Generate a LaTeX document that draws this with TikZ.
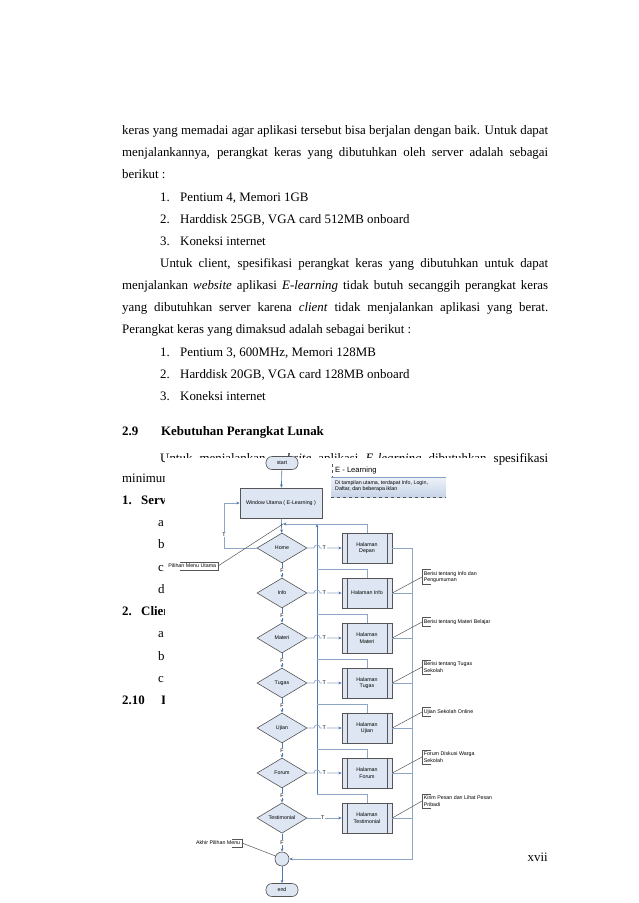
\documentclass[tikz,border=0pt]{standalone}
\usepackage{fontspec}
\setmainfont{Liberation Serif}
\newfontfamily\arialf{Liberation Sans}
\usetikzlibrary{shapes.geometric,arrows.meta}
\definecolor{boxblue}{HTML}{DDE6F2}
\definecolor{flowc}{HTML}{4F78B0}
\definecolor{retc}{HTML}{8EA6C6}
\definecolor{edgec}{HTML}{555555}
\definecolor{eltop}{HTML}{EEF2F9}
\definecolor{elbot}{HTML}{C7D4E7}
\newcommand{\bodyfont}{\fontsize{12.9}{15}\selectfont}
\newcommand{\fcfont}{\arialf\fontsize{5.3}{6.3}\selectfont}
\begin{document}
\begin{tikzpicture}[x=1pt,y=-1pt,
  body/.style={anchor=base west,inner sep=0,font=\bodyfont},
  fc/.style={draw=edgec,fill=boxblue,font=\fcfont,inner sep=0,line width=0.6pt,align=center},
  term/.style={fc,rounded corners=6pt,minimum width=32pt,minimum height=13pt},
  proc/.style={fc,minimum width=82pt,minimum height=30pt},
  dec/.style={fc,diamond,minimum width=50pt,minimum height=30pt},
  pre/.style={fc,minimum width=50pt,minimum height=30pt,
    path picture={\draw[edgec,line width=0.6pt]
      ([xshift=5pt]path picture bounding box.north west) -- ([xshift=5pt]path picture bounding box.south west)
      ([xshift=-5pt]path picture bounding box.north east) -- ([xshift=-5pt]path picture bounding box.south east);}},
  flow/.style={draw=flowc,line width=0.6pt,-{Stealth[length=3.4pt,width=2.8pt]}},
  conn/.style={draw=retc,line width=0.65pt},
  arr/.style={conn,-{Stealth[length=3.4pt,width=2.8pt,color=flowc]}},
  lab/.style={font=\fcfont,fill=white,inner sep=0.6pt},
  note/.style={font=\fcfont,align=left,inner sep=1.6pt},
  brk/.style={draw=edgec,line width=0.5pt},
  callout/.style={draw=edgec,line width=0.5pt}
  ]
\path[use as bounding box,fill=white] (0,0) rectangle (638,903);

% ---------- body text ----------
\node[body] (t1) at (122,134) {\makebox[426pt][s]{keras yang memadai agar aplikasi tersebut bisa berjalan dengan baik. Untuk dapat}};
\node[body] (t2) at (122,156) {\makebox[426pt][s]{menjalankannya, perangkat keras yang dibutuhkan oleh server adalah sebagai}};
\node[body] (t3) at (122,178) {berikut :};
\node[body] (n1) at (160,201) {1.};
\node[body] (l1) at (180,201) {Pentium 4, Memori 1GB};
\node[body] (n2) at (160,223) {2.};
\node[body] (l2) at (180,223) {Harddisk 25GB, VGA card 512MB onboard};
\node[body] (n3) at (160,245) {3.};
\node[body] (l3) at (180,245) {Koneksi internet};
\node[body] (t4) at (160,267) {\makebox[388pt][s]{Untuk client, spesifikasi perangkat keras yang dibutuhkan untuk dapat}};
\node[body] (t5) at (122,289) {\makebox[426pt][s]{menjalankan \textit{website} aplikasi \textit{E-learning} tidak butuh secanggih perangkat keras}};
\node[body] (t6) at (122,311) {\makebox[426pt][s]{yang dibutuhkan server karena \textit{client} tidak menjalankan aplikasi yang berat.}};
\node[body] (t7) at (122,333) {Perangkat keras yang dimaksud adalah sebagai berikut :};
\node[body] (m1) at (160,356) {1.};
\node[body] (k1) at (180,356) {Pentium 3, 600MHz, Memori 128MB};
\node[body] (m2) at (160,378) {2.};
\node[body] (k2) at (180,378) {Harddisk 20GB, VGA card 128MB onboard};
\node[body] (m3) at (160,400) {3.};
\node[body] (k3) at (180,400) {Koneksi internet};
\node[body] (h29) at (122,435) {\textbf{2.9}};
\node[body] (h29t) at (161,435) {\textbf{Kebutuhan Perangkat Lunak}};
\node[body] (t8) at (160,462) {\makebox[388pt][s]{Untuk menjalankan \textit{website} aplikasi \textit{E-learning} dibutuhkan spesifikasi}};
\node[body] (t9) at (122,482) {minimum};
\node[body] (s1) at (122,504) {\textbf{1.}};
\node[body] (s1t) at (141,504) {\textbf{Server}};
\node[body] (sa) at (158,526) {a};
\node[body] (sb) at (158,548) {b};
\node[body] (sc) at (158,571) {c};
\node[body] (sd) at (158,593) {d};
\node[body] (s2) at (122,615) {\textbf{2.}};
\node[body] (s2t) at (141,615) {\textbf{Client}};
\node[body] (ca) at (158,637) {a};
\node[body] (cb) at (158,660) {b};
\node[body] (cc) at (158,682) {c};
\node[body] (h210) at (122,704) {\textbf{2.10}};
\node[body] (h210t) at (161,704) {\textbf{Implementasi}};
\node[body,anchor=base east] (pg) at (548,861) {xvii};

% ---------- pasted flowchart background ----------
\fill[white] (165,457.5) rectangle (493,903);

% ---------- flowchart nodes ----------
\node[term] (start) at (282,463) {start};
\node[proc] (win) at (281,503) {Window Utama ( E-Learning )};
\node[dec] (home) at (282,548) {Home};
\node[dec] (info) at (282,593) {Info};
\node[dec] (materi) at (282,638) {Materi};
\node[dec] (tugas) at (282,683) {Tugas};
\node[dec] (ujian) at (282,728) {Ujian};
\node[dec] (forum) at (282,773) {Forum};
\node[dec] (testi) at (282,818) {Testimonial};
\node[pre] (hdepan) at (367,548) {Halaman\\Depan};
\node[pre] (hinfo) at (367,593) {Halaman Info};
\node[pre] (hmateri) at (367,638) {Halaman\\Materi};
\node[pre] (htugas) at (367,683) {Halaman\\Tugas};
\node[pre] (hujian) at (367,728) {Halaman\\Ujian};
\node[pre] (hforum) at (367,773) {Halaman\\Forum};
\node[pre] (htesti) at (367,818) {Halaman\\Testimonial};
\node[fc,circle,minimum size=14pt] (circ) at (282,859) {};
\node[term] (end) at (282,890) {end};

\coordinate (jt) at (283,524);
\coordinate (coltop) at (317,524);
\coordinate (colbot) at (317,794);

% ---------- main flow ----------
\draw[flow] (start) -- (win);
\draw[flow] (win) -- (home);
\draw[flow] (home) -- node[lab]{F} (info);
\draw[flow] (info) -- node[lab]{F} (materi);
\draw[flow] (materi) -- node[lab]{F} (tugas);
\draw[flow] (tugas) -- node[lab]{F} (ujian);
\draw[flow] (ujian) -- node[lab]{F} (forum);
\draw[flow] (forum) -- node[lab]{F} (testi);
\draw[flow] (testi) -- node[lab]{F} (circ);
\draw[flow] (circ) -- (end);

% left loop
\draw[arr] (home.west) -- (224,548) -- node[lab,pos=0.3]{T} (224,503) -- (win.west);

% collector and return lines
\draw[flow] (colbot) -- (coltop);
\draw[arr] (hdepan.north) -- (367,524) -- (jt);
\draw[conn] (hinfo.north) -- (367,569) -- (317,569);
\draw[conn] (hmateri.north) -- (367,614) -- (317,614);
\draw[conn] (htugas.north) -- (367,659) -- (317,659);
\draw[conn] (hujian.north) -- (367,704) -- (317,704);
\draw[conn] (hforum.north) -- (367,749) -- (317,749);
\draw[conn] (htesti.north) -- (367,794) -- (colbot);

% T branches with line hops
\foreach \d/\h/\y in {home/hdepan/548,info/hinfo/593,materi/hmateri/638,tugas/htugas/683,ujian/hujian/728,forum/hforum/773}{
  \draw[arr] (\d.east) -- (314,\y) .. controls (314,\y-4) and (320,\y-4) .. (320,\y) -- node[lab,pos=0.2]{T} (\h.west);
}
\draw[arr] (testi.east) -- node[lab,pos=0.45]{T} (htesti.west);

% right collector to end circle
\draw[arr] (hdepan.east) -- (412,548) -- (412,859) -- (circ.east);
\draw[conn] (hinfo.east) -- (412,593);
\draw[conn] (hmateri.east) -- (412,638);
\draw[conn] (htugas.east) -- (412,683);
\draw[conn] (hujian.east) -- (412,728);
\draw[conn] (hforum.east) -- (412,773);
\draw[conn] (htesti.east) -- (412,818);

% ---------- annotations ----------
\node[note,anchor=west] (ninfo) at (422,577) {Berisi tentang Info dan\\Pengumuman};
\node[note,anchor=west] (nmateri) at (422,622) {Berisi tentang Materi Belajar};
\node[note,anchor=west] (ntugas) at (422,667) {Berisi tentang Tugas\\Sekolah};
\node[note,anchor=west] (nujian) at (422,712) {Ujian Sekolah Online};
\node[note,anchor=west] (nforum) at (422,757) {Forum Diskusi Warga\\Sekolah};
\node[note,anchor=west] (ntesti) at (422,801) {Kirim Pesan dan Lihat Pesan\\Pribadi};
\foreach \n/\h in {ninfo/hinfo,nmateri/hmateri,ntugas/htugas,nujian/hujian,nforum/hforum,ntesti/htesti}{
  \draw[brk] ([xshift=9pt]\n.north west) -- (\n.north west) -- (\n.south west) -- ([xshift=9pt]\n.south west);
  \draw[callout] (\h.east) -- (\n.west);
}
\node[note,anchor=east] (npil) at (218,566) {Pilihan Menu Utama};
\draw[brk] ([xshift=-38pt]npil.north east) -- (npil.north east) -- (npil.south east) -- ([xshift=-38pt]npil.south east);
\draw[callout] (npil.east) -- (jt);
\node[note,anchor=east] (nakhir) at (242,843) {Akhir Pilihan Menu};
\draw[brk] ([xshift=-10pt]nakhir.north east) -- (nakhir.north east) -- (nakhir.south east) -- ([xshift=-10pt]nakhir.south east);
\draw[callout] (nakhir.east) -- (circ.155);

% E - Learning note
\draw[dashed,edgec,line width=0.5pt] (332,464) -- (332,477);
\node[anchor=west,inner sep=0,font=\arialf\fontsize{7.6}{9}\selectfont] (elt) at (335,471) {E - Learning};
\node[anchor=north west,minimum width=115pt,minimum height=20pt,inner sep=0,top color=eltop,bottom color=elbot] (elbox) at (331,477) {};
\node[note,anchor=north west,inner sep=0] (eltext) at (335,480) {Di tampilan utama, terdapat Info, Login,\\Daftar, dan beberapa iklan};
\draw[draw=flowc!70,line width=0.5pt] (elbox.north west) -- (elbox.north east);
\draw[dashed,edgec,line width=0.5pt] (elbox.south west) -- (elbox.south east);
\end{tikzpicture}
\end{document}
